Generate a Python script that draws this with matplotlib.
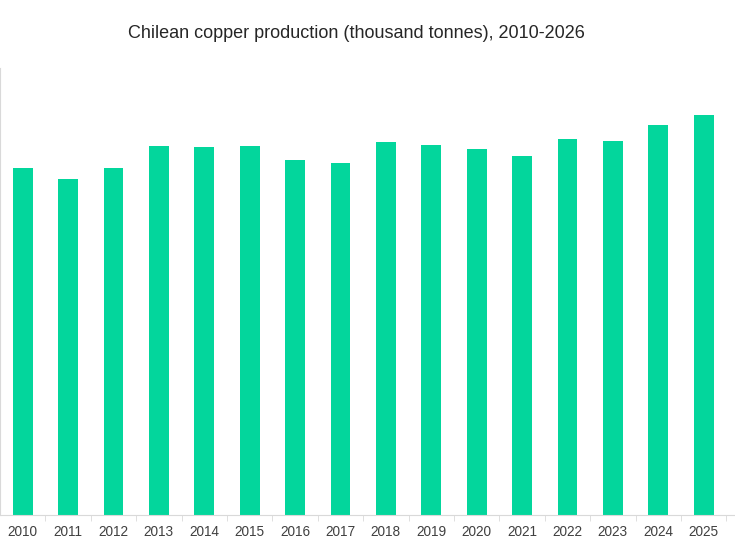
#!/usr/bin/env python3
# -*- coding: utf-8 -*-

"""
Bar chart of Chilean copper production, 2010-2026 (thousand tonnes).
The picture is cropped: the y labels and the 2026 bar sit outside the frame.
"""

import numpy as np
from matplotlib import pyplot as plt

years = ["2010", "2011", "2012", "2013", "2014", "2015", "2016", "2017", "2018",
         "2019", "2020", "2021", "2022", "2023", "2024", "2025", "2026"]
production = [5430, 5260, 5440, 5775, 5760, 5775, 5555, 5505, 5840,
              5790, 5730, 5620, 5885, 5855, 6105, 6265, 6400]

plt.rcParams["font.family"] = ["Liberation Sans", "DejaVu Sans"]

BAR_COLOUR = "#03D69C"
GRID_GREY = "#D9D9D9"

fig = plt.figure(figsize=(7.35, 5.51), dpi=100)

# axes run past the right edge so the 2026 bar is clipped like the original
slot = 45.4 / 735
ax = fig.add_axes([0.0, 36 / 551, slot * len(years), 447 / 551])

x = np.arange(len(years))
ax.bar(x, production, width=0.44, color=BAR_COLOUR, zorder=2)

ax.set_xlim(-0.5, len(years) - 0.5)
ax.set_ylim(0, 7000)

for side in ["top", "right"]:
    ax.spines[side].set_visible(False)
ax.spines["left"].set_color(GRID_GREY)
ax.spines["bottom"].set_color(GRID_GREY)

ax.set_xticks(x)
ax.set_xticklabels(years, fontsize=9.8, color="#404040")
ax.set_xticks(x[:-1] + 0.5, minor=True)
ax.tick_params(axis="x", which="major", length=0, pad=7)
ax.tick_params(axis="x", which="minor", length=4, color=GRID_GREY)
ax.set_yticks([])

fig.text(356 / 735, 1 - 33 / 551, "Chilean copper production (thousand tonnes), 2010-2026",
         ha="center", va="center", fontsize=13, color="#262626")

fig.savefig("out.png", dpi=100)
plt.close()
